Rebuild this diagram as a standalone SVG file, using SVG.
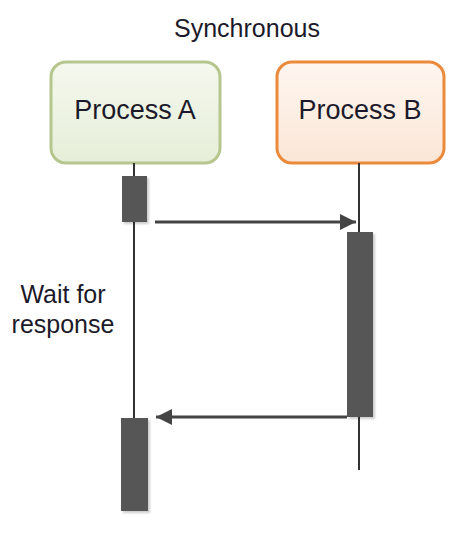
<svg xmlns="http://www.w3.org/2000/svg" width="474" height="544" viewBox="0 0 474 544">
<defs>
<linearGradient id="gA" x1="0" y1="0" x2="0" y2="1"><stop offset="0" stop-color="#f4f8ee"/><stop offset="1" stop-color="#e6eed8"/></linearGradient>
<linearGradient id="gB" x1="0" y1="0" x2="0" y2="1"><stop offset="0" stop-color="#fef6f0"/><stop offset="1" stop-color="#fbe6d6"/></linearGradient>
<marker id="ah" markerWidth="16" markerHeight="16" viewBox="0 0 16 16" refX="16" refY="8" orient="auto" markerUnits="userSpaceOnUse"><path d="M0,0 L16,8 L0,16 Z" fill="#444"/></marker>
<filter id="sh" x="-20%" y="-20%" width="150%" height="150%"><feDropShadow dx="2" dy="2" stdDeviation="1.2" flood-color="#000" flood-opacity="0.2"/></filter>
</defs>
<style>
text{font-family:"Liberation Sans",Arial,sans-serif;fill:#1c1a2a}
.life{stroke:#333;stroke-width:2;fill:none}
.act{fill:#575757;filter:url(#sh)}
.msg{stroke:#444;stroke-width:3;fill:none;marker-end:url(#ah)}
</style>
<text x="247" y="37" font-size="25" text-anchor="middle">Synchronous</text>
<g id="processA">
<rect x="51" y="62" width="169" height="101" rx="15" fill="url(#gA)" stroke="#b6c68e" stroke-width="3"/>
<text x="135" y="119" font-size="27" text-anchor="middle">Process A</text>
</g>
<g id="processB">
<rect x="277" y="62" width="167" height="101" rx="15" fill="url(#gB)" stroke="#ec8a3c" stroke-width="3"/>
<text x="360" y="119" font-size="27" text-anchor="middle">Process B</text>
</g>
<g id="lifelines">
<line class="life" x1="134" y1="163" x2="134" y2="418"/>
<line class="life" x1="359" y1="163" x2="359" y2="470"/>
</g>
<g id="activationA1"><rect class="act" x="122" y="176" width="25" height="46"/></g>
<g id="activationB"><rect class="act" x="347" y="232" width="26" height="185"/></g>
<g id="activationA2"><rect class="act" x="121" y="418" width="27" height="93"/></g>
<g id="connectors">
<line class="msg" x1="155" y1="222" x2="356" y2="222"/>
<line class="msg" x1="347" y1="417" x2="156" y2="417"/>
</g>
<g id="waitLabel">
<text x="63" y="303" font-size="25" text-anchor="middle">Wait for</text>
<text x="63" y="333" font-size="25" text-anchor="middle">response</text>
</g>
</svg>
